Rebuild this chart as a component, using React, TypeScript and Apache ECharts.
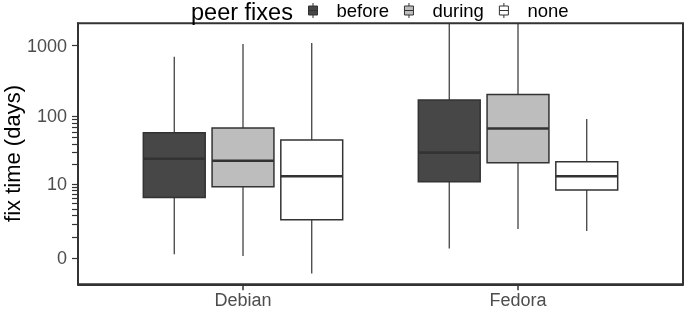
import React, { useEffect, useRef } from "react";
import * as echarts from "echarts";

// categories and groups
const categories = ["Debian", "Fedora"];
const groups = ["before", "during", "none"];

// box statistics per category, in days: [lower whisker, Q1, median, Q3, upper whisker]
const beforeStats = [
  [0.14, 6.2, 24.4, 58, 700],
  [0.38, 11, 30, 170, 2500],
];
const duringStats = [
  [0.08, 9.2, 22.8, 68, 1056],
  [1.6, 21.3, 67, 203, 2500],
];
const noneStats = [
  [-0.39, 2.5, 13.4, 45.7, 1092],
  [1.43, 8.2, 13.4, 22.1, 91.5],
];

// y axis ticks (days)
const yTickValues = [0, 10, 100, 1000];
const yTickLabels = ["0", "10", "100", "1000"];
const yMinorTicks = [1, 2, 3, 4, 5, 6, 7, 8, 9, 20, 30, 40, 50, 60, 70, 80, 90];

const groupFills = ["#474747", "#bdbdbd", "#ffffff"];
const groupOffsets = [-0.25, 0, 0.25];

const tr = (d: number) => Math.log10(d + 1);
const FONT = "Liberation Sans, Arial, Helvetica, sans-serif";
const LINE = "#333333";

const legendIcon = "path://M0,3H9V12H0Z M4.5,0V3 M4.5,12V15 M0,7.5H9";

export default function App() {
  const ref = useRef<HTMLDivElement>(null);
  useEffect(() => {
    if (!ref.current) return;
    const chart = echarts.init(ref.current, null, { renderer: "svg" });
    const allStats = [beforeStats, duringStats, noneStats];

    const makeRender = (offset: number, fill: string) => (params: any, api: any) => {
      const x = api.value(0) + offset;
      const pMin = api.coord([x, api.value(1)]);
      const pQ1 = api.coord([x, api.value(2)]);
      const pMed = api.coord([x, api.value(3)]);
      const pQ3 = api.coord([x, api.value(4)]);
      const pMax = api.coord([x, api.value(5)]);
      const w = api.size([0.225, 0])[0];
      const cx = pMed[0];
      return {
        type: "group",
        children: [
          { type: "line", shape: { x1: cx, y1: pMax[1], x2: cx, y2: pQ3[1] }, style: { stroke: LINE, lineWidth: 1.2 } },
          { type: "line", shape: { x1: cx, y1: pQ1[1], x2: cx, y2: pMin[1] }, style: { stroke: LINE, lineWidth: 1.2 } },
          {
            type: "rect",
            shape: { x: cx - w / 2, y: pQ3[1], width: w, height: pQ1[1] - pQ3[1] },
            style: { fill, stroke: LINE, lineWidth: 1.5 },
          },
          { type: "line", shape: { x1: cx - w / 2, y1: pMed[1], x2: cx + w / 2, y2: pMed[1] }, style: { stroke: LINE, lineWidth: 2.6 } },
        ],
      };
    };

    const series = groups.map((g, gi) => ({
      name: g,
      type: "custom",
      clip: true,
      itemStyle: { color: groupFills[gi], borderColor: LINE },
      encode: { x: 0, y: [1, 2, 3, 4, 5] },
      data: categories.map((c, ci) => [ci + 1, ...allStats[gi][ci].map(tr)]),
      renderItem: makeRender(groupOffsets[gi], groupFills[gi]),
    }));

    const labelFor = (v: number) => {
      let best = 0;
      yTickValues.forEach((t, i) => {
        if (Math.abs(tr(t) - v) < Math.abs(tr(yTickValues[best]) - v)) best = i;
      });
      return yTickLabels[best];
    };

    chart.setOption({
      animation: false,
      textStyle: { fontFamily: FONT },
      graphic: [
        {
          type: "text",
          x: 191,
          y: 12,
          style: { text: "peer fixes", fontSize: 23.5, fill: "#000", fontFamily: FONT, verticalAlign: "middle", align: "left" },
        },
        {
          type: "text",
          x: 12,
          y: 153.5,
          rotation: Math.PI / 2,
          style: { text: "fix time (days)", fontSize: 22, fill: "#000", fontFamily: FONT, verticalAlign: "middle", align: "center" },
        },
      ],
      legend: {
        left: 308,
        top: 1,
        padding: 0,
        itemWidth: 9,
        itemHeight: 15,
        itemGap: 15,
        textStyle: { fontSize: 18.5, color: "#000", fontFamily: FONT, padding: [0, 0, 0, 14] },
        data: groups.map((g, gi) => ({
          name: g,
          icon: legendIcon,
          itemStyle: { color: groupFills[gi], borderColor: LINE, borderWidth: 1 },
        })),
      },
      grid: {
        left: 78,
        right: 2,
        top: 23.3,
        bottom: 24.7,
        outerBoundsMode: "none",
        containLabel: false,
        show: true,
        borderColor: LINE,
        borderWidth: 2,
        backgroundColor: "transparent",
      },
      xAxis: {
        type: "value",
        min: 0.4,
        max: 2.6,
        splitLine: { show: false },
        axisLine: { show: true, onZero: false, lineStyle: { color: LINE, width: 2 } },
        axisTick: { show: true, length: 6, customValues: [1, 2], lineStyle: { color: LINE, width: 1.5 } },
        axisLabel: {
          show: true,
          customValues: [1, 2],
          margin: 7,
          fontSize: 18,
          color: "#4d4d4d",
          fontFamily: FONT,
          formatter: (v: number) => categories[Math.round(v) - 1] ?? "",
        },
      },
      yAxis: {
        type: "value",
        min: -0.367,
        max: 3.316,
        splitLine: { show: false },
        axisLine: { show: true, onZero: false, lineStyle: { color: LINE, width: 2 } },
        axisTick: {
          show: true,
          length: 6,
          customValues: [...yTickValues, ...yMinorTicks].map(tr),
          lineStyle: { color: LINE, width: 1.2 },
        },
        axisLabel: {
          show: true,
          customValues: yTickValues.map(tr),
          margin: 11,
          fontSize: 18,
          color: "#4d4d4d",
          fontFamily: FONT,
          formatter: (v: number) => labelFor(v),
        },
      },
      series,
    });
    return () => chart.dispose();
  }, []);
  return <div ref={ref} style={{ position: "fixed", left: 0, top: 0, width: 685, height: 309 }} />;
}
